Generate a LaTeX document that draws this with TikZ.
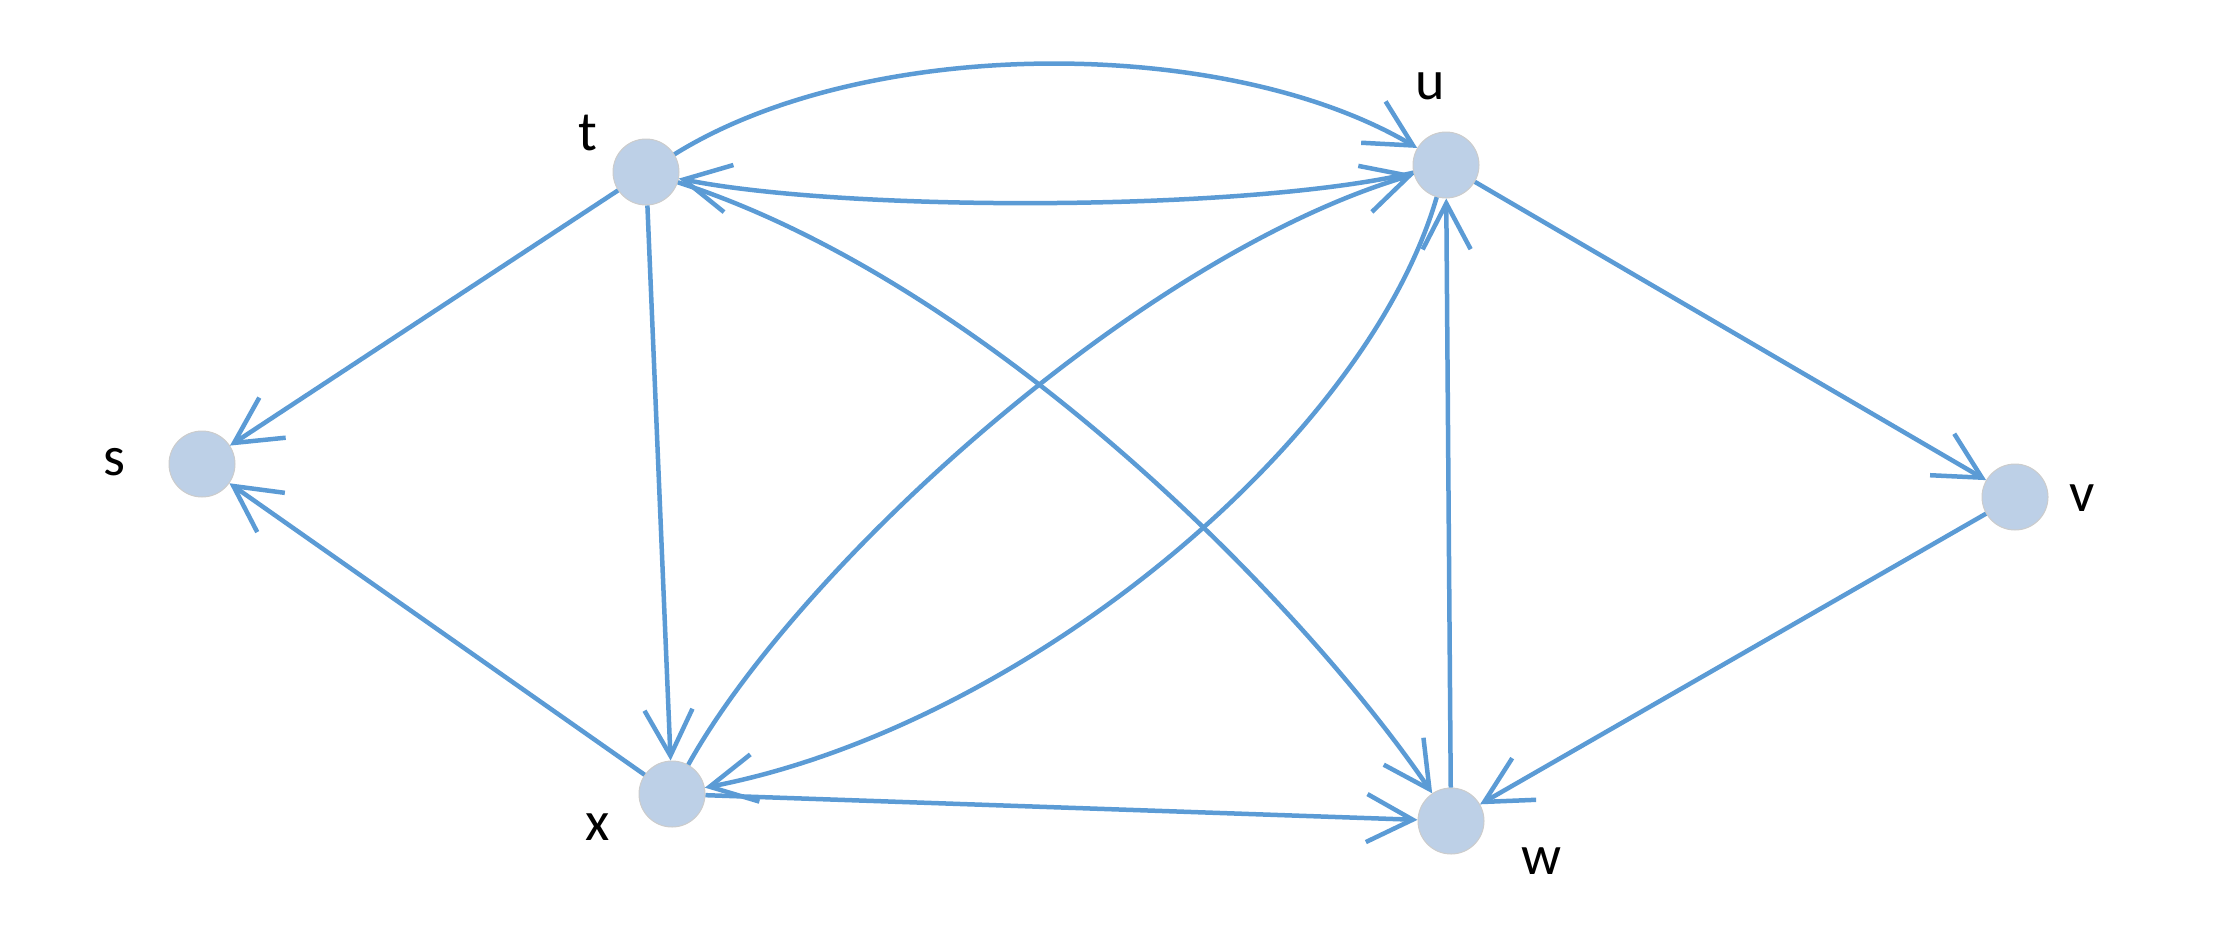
\documentclass[tikz,border=0pt]{standalone}
\usepackage{fontspec}
\setmainfont{Carlito}
\usetikzlibrary{arrows.meta}
\definecolor{edge}{HTML}{5B9BD5}
\definecolor{vfill}{HTML}{BDD0E7}
\begin{document}
\begin{tikzpicture}[x=1pt,y=-1pt,
  vert/.style={circle,fill=vfill,draw=black!20,line width=1pt,minimum size=66pt,inner sep=0pt},
  lab/.style={font=\fontsize{56}{60}\selectfont},
  arc/.style={draw=edge,line width=4.5pt,-{Straight Barb[length=46pt,width=48pt,line width=4.5pt]}}]
\useasboundingbox (0,0) rectangle (2214,932);
\node[vert] (t) at (646,172) {};
\node[vert] (u) at (1446,165) {};
\node[vert] (s) at (202,464) {};
\node[vert] (v) at (2015,497) {};
\node[vert] (x) at (672,794) {};
\node[vert] (w) at (1451,821) {};
\node[lab] (lt) at (588,133) {t};
\node[lab] (lu) at (1430,86) {u};
\node[lab] (ls) at (114,462) {s};
\node[lab] (lv) at (2082,498) {v};
\node[lab] (lx) at (598,827) {x};
\node[lab] (lw) at (1541,861) {w};
\draw[arc] (t) -- (s);
\draw[arc] (x) -- (s);
\draw[arc] (t) -- (x);
\draw[arc] (t) .. controls (866,35) and (1226,35) .. (u);
\draw[arc] (u) .. controls (1246,212) and (846,212) .. (t);
\draw[arc] (t) .. controls (996,285) and (1309,612) .. (w);
\draw[arc] (x) .. controls (797,569) and (1138,256) .. (u);
\draw[arc] (u) .. controls (1366,441) and (1024,726) .. (x);
\draw[arc] (x) -- (w);
\draw[arc] (w) -- (u);
\draw[arc] (u) -- (v);
\draw[arc] (v) -- (w);
\end{tikzpicture}
\end{document}
